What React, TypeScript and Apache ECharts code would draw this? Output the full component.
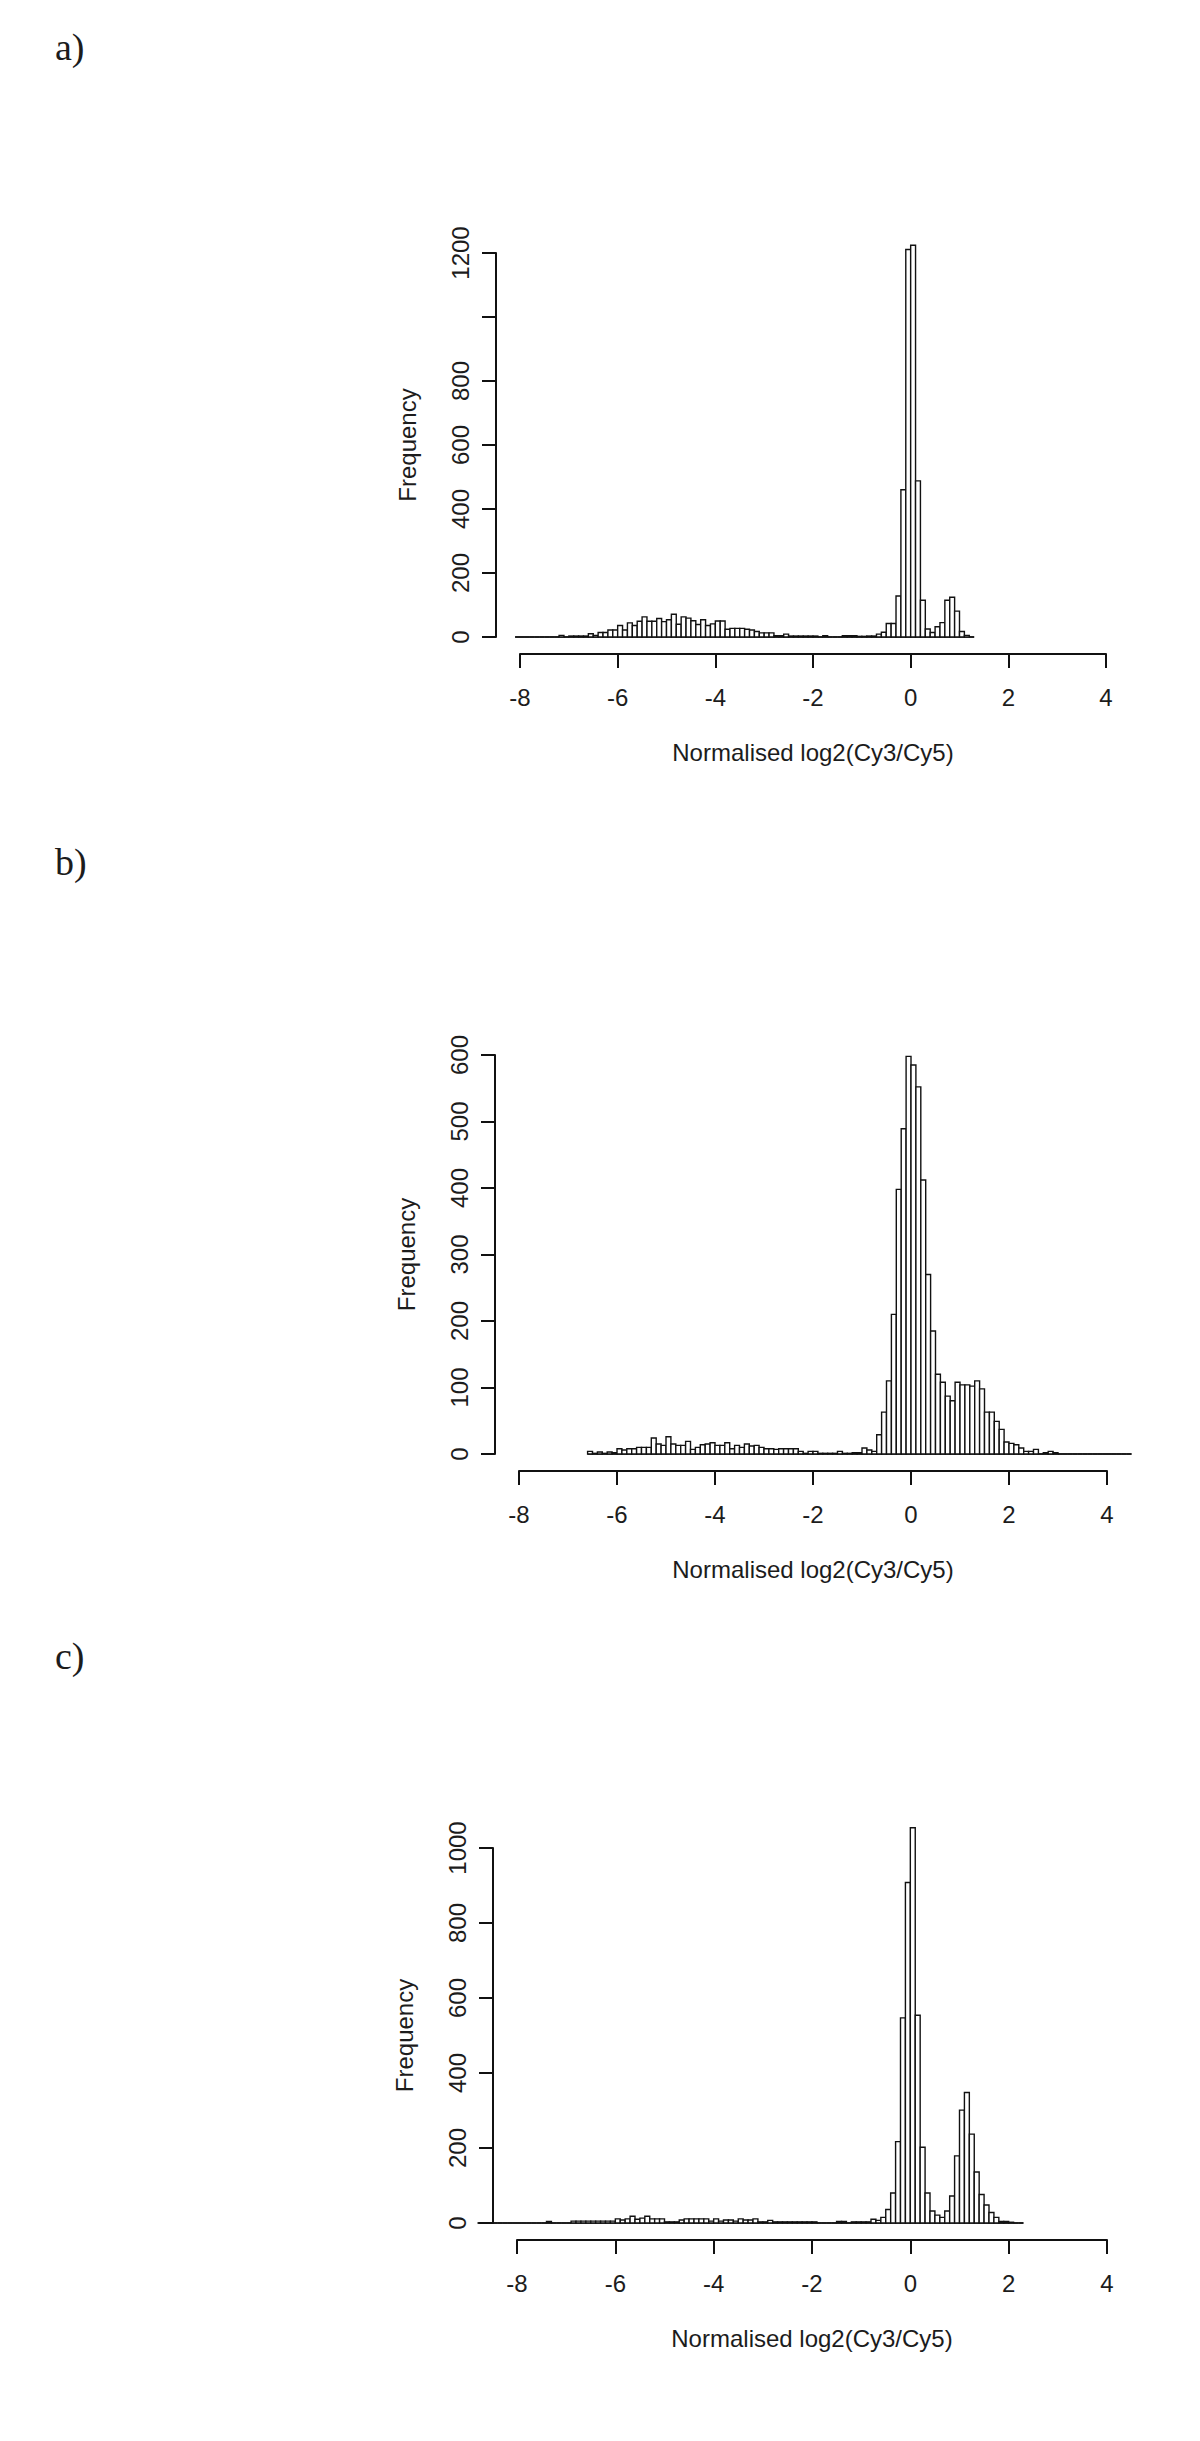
import React, { useEffect, useRef } from "react";
import * as echarts from "echarts";

// ---------- data ----------
const BIN_WIDTH = 0.1;

// a) counts per 0.1-wide bin, first bin starts at -8.1
const startA = -8.1;
const countsA = [
  0, 0, 0, 0, 0, 0, 0, 0, 0,
  5, 0, 3, 3, 3, 3,
  10, 5, 14, 14, 22, 22, 36, 22, 44, 36,
  49, 63, 49, 49, 58, 48, 54, 71, 40, 63,
  59, 51, 39, 54, 36, 41, 50, 50, 24, 27,
  27, 27, 24, 22, 17, 13, 13, 13, 4, 4,
  9, 3, 3, 3, 3, 3, 3, 0, 4, 0,
  0, 0, 4, 4, 4, 2, 2, 3, 3, 9,
  15, 42, 42, 128, 460, 1211, 1224, 488, 115, 25,
  14, 32, 45, 115, 124, 81, 17, 5, 0,
];

// b) first bin starts at -6.6
const startB = -6.6;
const countsB = [
  4, 1, 3, 1, 3, 2, 8, 6, 8, 8,
  10, 10, 10, 24, 15, 13, 26, 15, 13, 13,
  19, 7, 10, 14, 15, 17, 13, 13, 17, 8,
  13, 10, 15, 12, 13, 10, 8, 8, 7, 8,
  8, 8, 8, 4, 1, 4, 4, 1, 1, 1,
  1, 4, 1, 1, 2, 2, 9, 6, 4, 29,
  63, 110, 210, 398, 489, 598, 585, 552, 412, 270,
  185, 120, 108, 87, 80, 108, 104, 104, 102, 110,
  98, 63, 63, 49, 37, 18, 16, 14, 9, 4,
  4, 7, 0, 2, 4, 2, 0, 0, 0, 0,
  0, 0, 0, 0, 0, 0, 0, 0, 0, 0, 0,
];

// c) first bin starts at -8.8
const startC = -8.8;
const countsC = [
  0, 0, 0, 0, 0, 0, 0, 0, 0, 0, 0, 0, 0, 0,
  4,
  0, 0, 0, 0,
  5, 5, 5, 5, 5, 5, 5, 5, 5,
  11, 8, 11, 18, 10, 13, 18, 11, 11, 11,
  3, 3, 3, 8, 11, 11, 11, 11, 11, 5,
  11, 5, 8, 8, 5, 11, 8, 8, 11, 3,
  3, 7, 3, 3, 3, 3, 3, 3, 3, 3, 3,
  0, 0, 0, 0,
  4, 4, 0, 3, 3, 3, 3, 10, 7, 15,
  36, 80, 217, 547, 908, 1054, 554, 202, 80, 32,
  21, 15, 32, 72, 179, 301, 348, 237, 136, 76,
  48, 28, 15, 4, 4, 2, 0, 0,
];

const xTicks = [-8, -6, -4, -2, 0, 2, 4];
const xTickLabels = ["-8", "-6", "-4", "-2", "0", "2", "4"];

const yTicksA = [0, 200, 400, 600, 800, 1000, 1200];
const yLabelsA = ["0", "200", "400", "600", "800", "", "1200"];
const yTicksB = [0, 100, 200, 300, 400, 500, 600];
const yLabelsB = ["0", "100", "200", "300", "400", "500", "600"];
const yTicksC = [0, 200, 400, 600, 800, 1000];
const yLabelsC = ["0", "200", "400", "600", "800", "1000"];

const panelNames = ["a)", "b)", "c)"];
const xTitle = "Normalised log2(Cy3/Cy5)";
const yTitle = "Frequency";

// ---------- layout / style ----------
const W = 1200;
const H = 2441;
const INK = "#111";
const TEXT = "#1c1c1c";
const SANS = '"Liberation Sans", Arial, Helvetica, sans-serif';
const SERIF = '"Liberation Serif", "Times New Roman", serif';
const FS = 24;

const panels = [
  { start: startA, counts: countsA, yTicks: yTicksA, yLabels: yLabelsA, left: 520, right: 1106, top: 253, base: 637, labelY: 49 },
  { start: startB, counts: countsB, yTicks: yTicksB, yLabels: yLabelsB, left: 519, right: 1107, top: 1055, base: 1454, labelY: 864 },
  { start: startC, counts: countsC, yTicks: yTicksC, yLabels: yLabelsC, left: 517, right: 1107, top: 1848, base: 2223, labelY: 1658 },
];

function round1(v: number) {
  return Math.round(v * 10) / 10;
}

function toBins(start: number, counts: number[]) {
  return counts.map((c, i) => [round1(start + i * BIN_WIDTH), round1(start + (i + 1) * BIN_WIDTH), c]);
}

function buildOption() {
  const grid: any[] = [];
  const xAxis: any[] = [];
  const yAxis: any[] = [];
  const series: any[] = [];
  const graphic: any[] = [];

  panels.forEach((p, i) => {
    grid.push({ left: p.left, top: p.top, width: p.right - p.left, height: p.base - p.top, containLabel: false });

    xAxis.push({
      gridIndex: i,
      type: "value",
      min: -8,
      max: 4,
      interval: 2,
      offset: 17,
      axisLine: { show: true, onZero: false, lineStyle: { color: INK, width: 2 } },
      axisTick: { show: true, length: 14, lineStyle: { color: INK, width: 2 } },
      axisLabel: {
        margin: 31,
        fontSize: FS,
        fontFamily: SANS,
        color: TEXT,
        formatter: (v: number) => {
          const k = xTicks.indexOf(v);
          return k >= 0 ? xTickLabels[k] : "";
        },
      },
      splitLine: { show: false },
      name: xTitle,
      nameLocation: "middle",
      nameGap: 86,
      nameTextStyle: { fontSize: FS, fontFamily: SANS, color: TEXT },
    });

    const maxTick = p.yTicks[p.yTicks.length - 1];
    const step = p.yTicks[1] - p.yTicks[0];
    yAxis.push({
      gridIndex: i,
      type: "value",
      min: 0,
      max: maxTick,
      interval: step,
      offset: 24,
      position: "left",
      axisLine: { show: true, onZero: false, lineStyle: { color: INK, width: 2 } },
      axisTick: { show: true, length: 14, lineStyle: { color: INK, width: 2 } },
      axisLabel: {
        rotate: 90,
        margin: 24,
        fontSize: FS,
        fontFamily: SANS,
        color: TEXT,
        formatter: (v: number) => {
          const k = p.yTicks.indexOf(v);
          return k >= 0 ? p.yLabels[k] : "";
        },
      },
      splitLine: { show: false },
      name: yTitle,
      nameLocation: "middle",
      nameRotate: 90,
      nameGap: 77,
      nameTextStyle: { fontSize: FS, fontFamily: SANS, color: TEXT },
    });

    const bins = toBins(p.start, p.counts);
    const last = bins[bins.length - 1];

    // baseline under the bars (zero-height bins show as a line, as in R)
    series.push({
      type: "custom",
      xAxisIndex: i,
      yAxisIndex: i,
      clip: false,
      silent: true,
      z: 1,
      data: [[p.start, last[1], 0]],
      encode: { x: [0, 1], y: 2 },
      renderItem: (_params: any, api: any) => {
        const a = api.coord([api.value(0), 0]);
        const b = api.coord([api.value(1), 0]);
        return {
          type: "line",
          shape: { x1: a[0], y1: a[1], x2: b[0], y2: b[1] },
          style: { stroke: INK, lineWidth: 1.5 },
        };
      },
    });

    series.push({
      type: "custom",
      xAxisIndex: i,
      yAxisIndex: i,
      clip: false,
      silent: true,
      z: 2,
      data: bins,
      encode: { x: [0, 1], y: 2 },
      renderItem: (_params: any, api: any) => {
        const x0 = api.value(0);
        const x1 = api.value(1);
        const c = api.value(2);
        const p0 = api.coord([x0, 0]);
        const p1 = api.coord([x1, c]);
        return {
          type: "rect",
          shape: { x: p0[0], y: p1[1], width: p1[0] - p0[0], height: p0[1] - p1[1] },
          style: { fill: "#fff", stroke: INK, lineWidth: 1.4 },
        };
      },
    });

    graphic.push({
      type: "text",
      left: 55,
      top: p.labelY - 21,
      style: {
        text: panelNames[i],
        font: `38px ${SERIF}`,
        fill: TEXT,
      },
    });
  });

  return {
    animation: false,
    backgroundColor: "#fff",
    grid,
    xAxis,
    yAxis,
    series,
    graphic,
  };
}

export default function App() {
  const ref = useRef<HTMLDivElement | null>(null);

  useEffect(() => {
    if (!ref.current) return;
    const chart = echarts.init(ref.current, undefined, { renderer: "svg", width: W, height: H });
    chart.setOption(buildOption() as any);
    return () => {
      chart.dispose();
    };
  }, []);

  return (
    <div
      ref={ref}
      style={{ position: "absolute", left: 0, top: 0, width: W, height: H, background: "#fff" }}
    />
  );
}
